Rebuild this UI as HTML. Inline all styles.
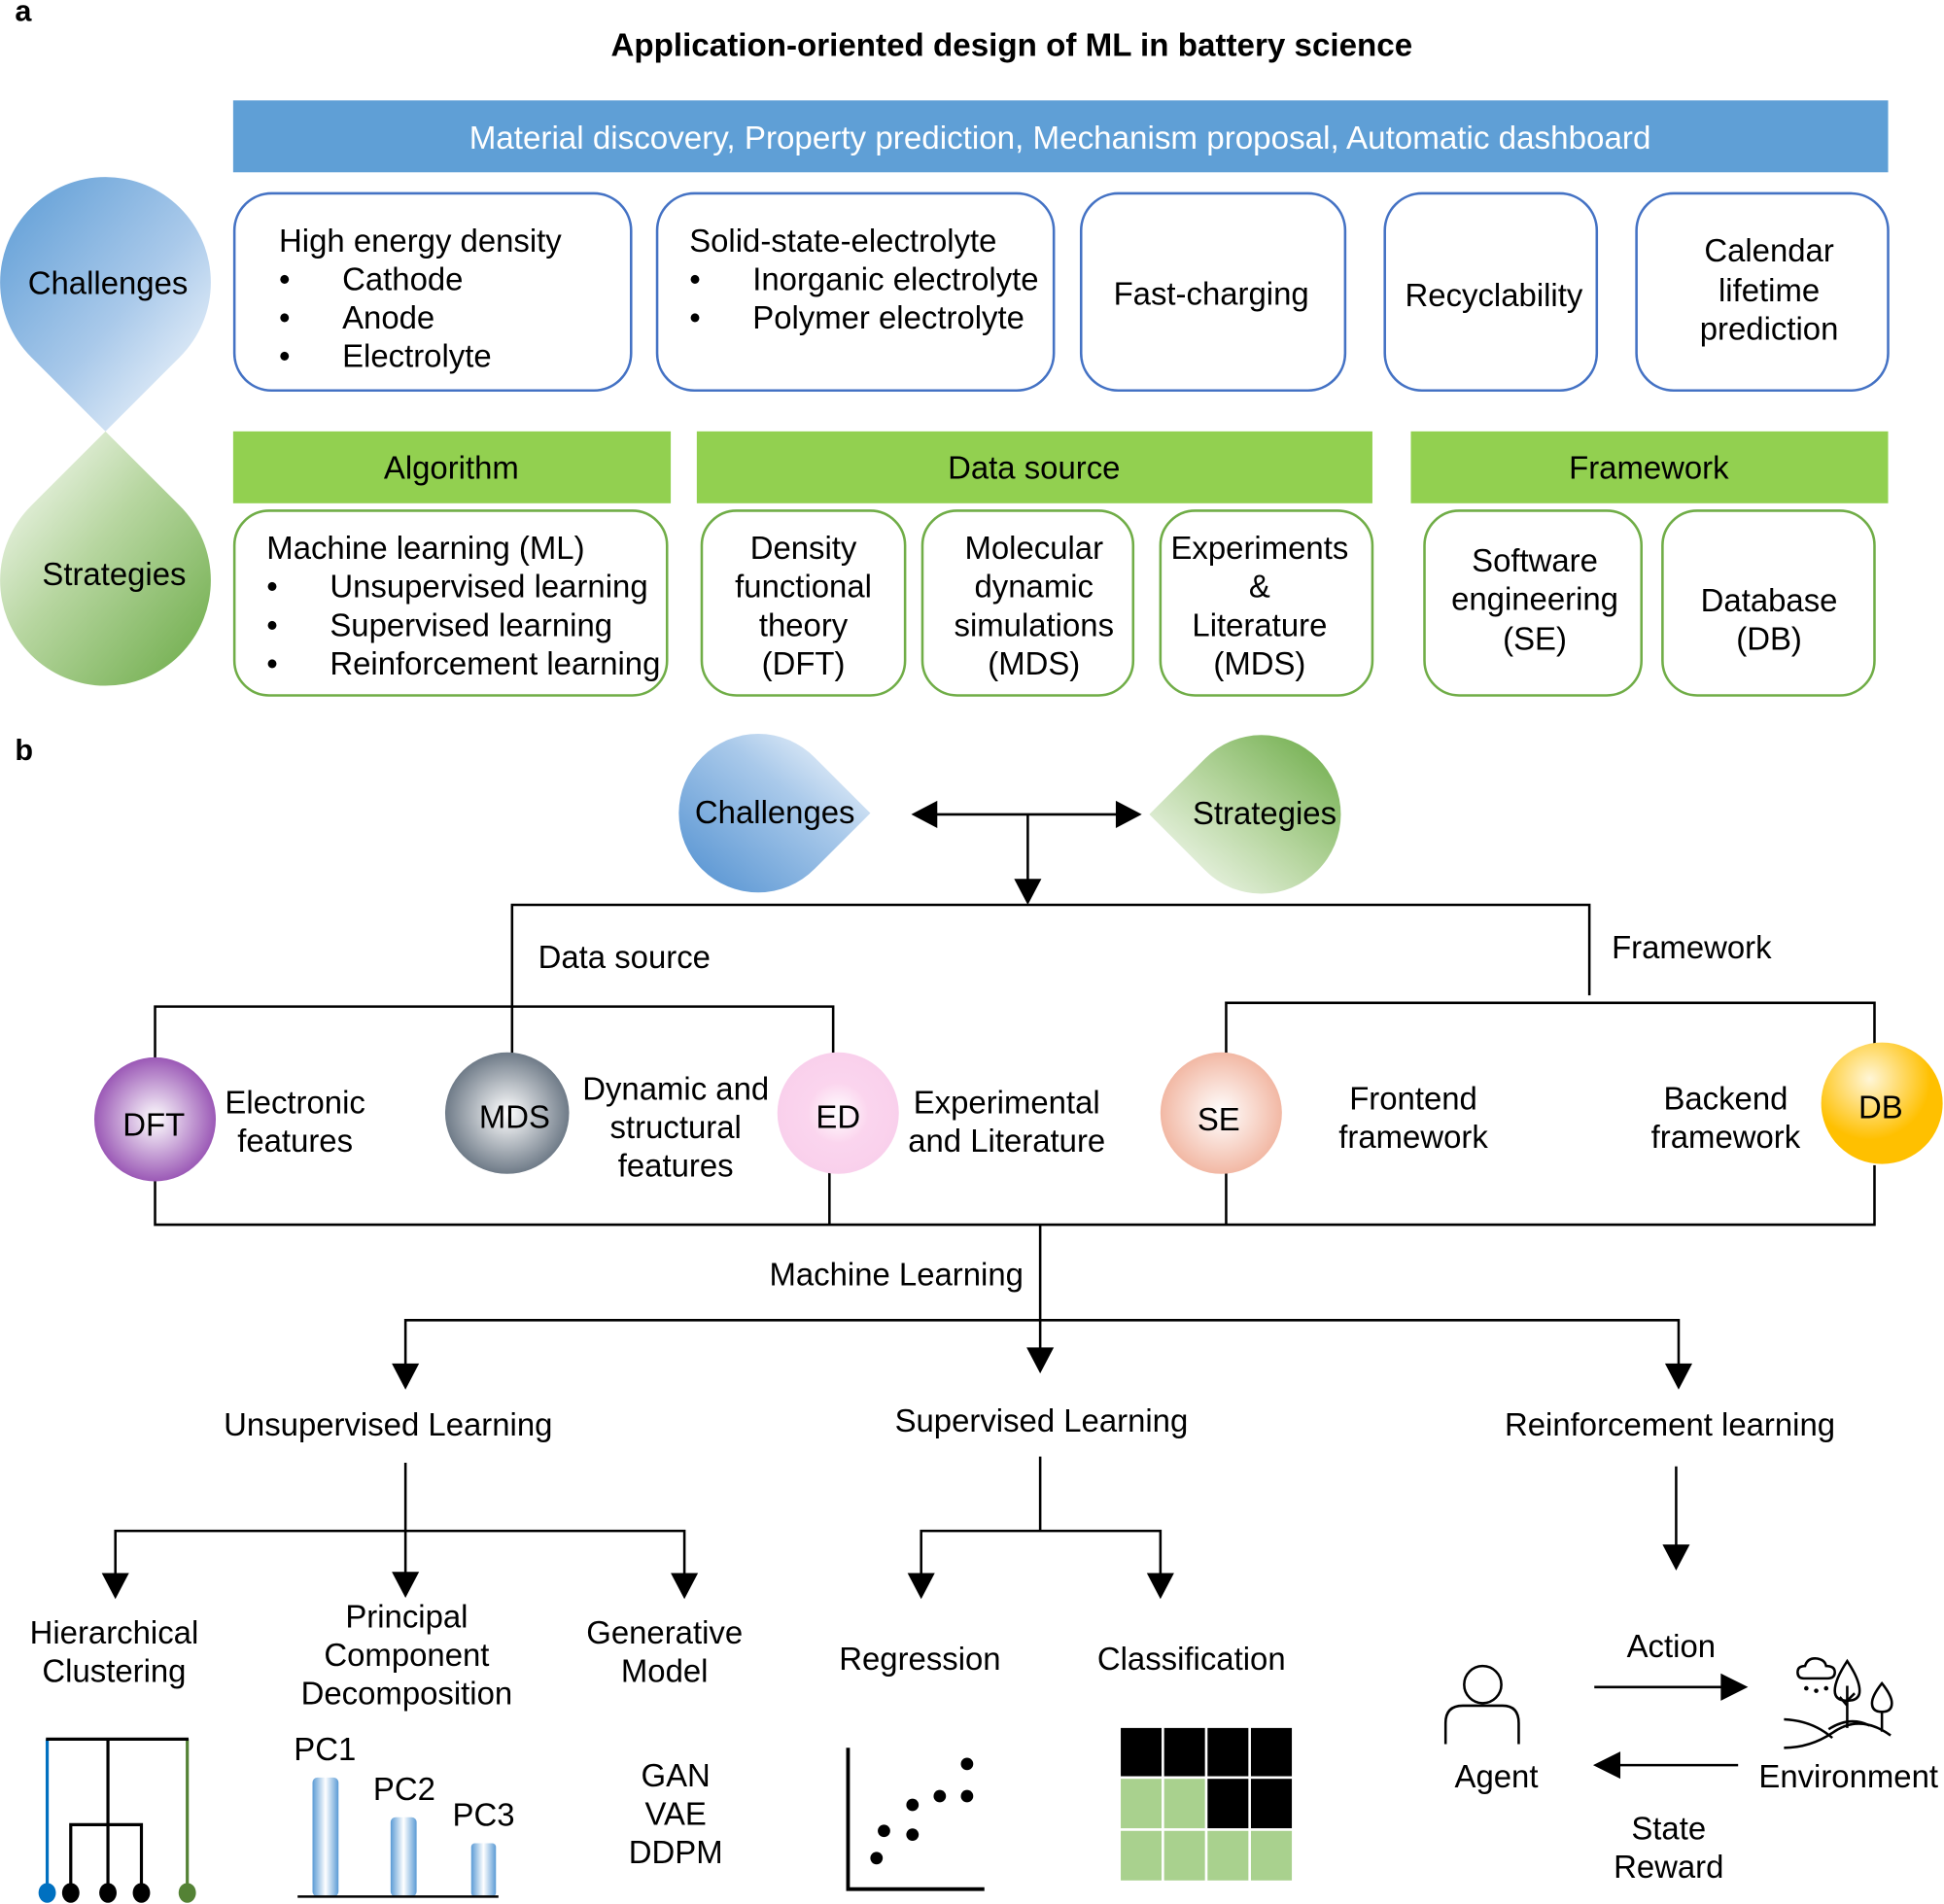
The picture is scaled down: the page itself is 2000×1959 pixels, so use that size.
<!DOCTYPE html>
<html><head><meta charset="utf-8"><style>html,body{margin:0;padding:0;background:#fff}svg{display:block}text{font-family:"Liberation Sans",Arial,sans-serif;fill:#000}</style></head>
<body>
<svg width="2000" height="1959" viewBox="0 0 1568 1536" xmlns="http://www.w3.org/2000/svg">
<defs>
<linearGradient id="gBlue" x1="0" y1="0" x2="1" y2="1"><stop offset="0" stop-color="#5b9bd5"/><stop offset="0.55" stop-color="#a9c9ea"/><stop offset="1" stop-color="#ffffff"/></linearGradient>
<linearGradient id="gGreen" x1="0" y1="0" x2="1" y2="1"><stop offset="0" stop-color="#ffffff"/><stop offset="0.45" stop-color="#b7d6a0"/><stop offset="1" stop-color="#6aaa45"/></linearGradient>
<linearGradient id="gBlue2" x1="1" y1="0" x2="0" y2="1"><stop offset="0" stop-color="#ffffff"/><stop offset="0.4" stop-color="#a9c9ea"/><stop offset="1" stop-color="#4f8fd0"/></linearGradient>
<linearGradient id="gGreen2" x1="0" y1="1" x2="1" y2="0"><stop offset="0" stop-color="#ffffff"/><stop offset="0.5" stop-color="#b7d6a0"/><stop offset="1" stop-color="#6aaa45"/></linearGradient>
<radialGradient id="rP"><stop offset="0" stop-color="#fff"/><stop offset="1" stop-color="#9b59b6"/></radialGradient>
<radialGradient id="rG"><stop offset="0" stop-color="#fff"/><stop offset="1" stop-color="#6f7b88"/></radialGradient>
<radialGradient id="rK"><stop offset="0" stop-color="#fff"/><stop offset="0.5" stop-color="#fbd5ee"/><stop offset="1" stop-color="#f9d0ec"/></radialGradient>
<radialGradient id="rS"><stop offset="0" stop-color="#fff"/><stop offset="1" stop-color="#f2b8a4"/></radialGradient>
<radialGradient id="rY" cx="0.4" cy="0.3"><stop offset="0" stop-color="#fff6d8"/><stop offset="1" stop-color="#ffc000"/></radialGradient>
<linearGradient id="gBar" x1="0" y1="0" x2="1" y2="0"><stop offset="0" stop-color="#5b9bd5"/><stop offset="0.5" stop-color="#ffffff"/><stop offset="1" stop-color="#5b9bd5"/></linearGradient>
</defs>

<text x="12" y="17" font-size="24" font-weight="bold">a</text>
<text x="816" y="45" font-size="26" font-weight="bold" text-anchor="middle">Application-oriented design of ML in battery science</text>
<rect x="188" y="81" width="1335" height="58" fill="#5f9fd6"/>
<text x="855" y="120" font-size="26" text-anchor="middle" style="fill:#fff">Material discovery, Property prediction, Mechanism proposal, Automatic dashboard</text>

<path d="M85,348 L25,288 A85,85 0 1 1 145,288 Z" fill="url(#gBlue)"/>
<path d="M85,348 L25,408 A85,85 0 1 0 145,408 Z" fill="url(#gGreen)"/>
<g font-size="25.8">
<text x="87" y="237" text-anchor="middle">Challenges</text>
<text x="92" y="472" text-anchor="middle">Strategies</text>
</g>

<g fill="none" stroke="#4472c4" stroke-width="2">
<rect x="189" y="156" width="320" height="159" rx="30"/>
<rect x="530" y="156" width="320" height="159" rx="30"/>
<rect x="872" y="156" width="213" height="159" rx="30"/>
<rect x="1117" y="156" width="171" height="159" rx="30"/>
<rect x="1320" y="156" width="203" height="159" rx="30"/>
</g>
<g font-size="25.8">
<text x="225" y="203">High energy density</text>
<text x="225" y="234">•</text><text x="276" y="234">Cathode</text>
<text x="225" y="265">•</text><text x="276" y="265">Anode</text>
<text x="225" y="296">•</text><text x="276" y="296">Electrolyte</text>
<text x="556" y="203">Solid-state-electrolyte</text>
<text x="556" y="234">•</text><text x="607" y="234">Inorganic electrolyte</text>
<text x="556" y="265">•</text><text x="607" y="265">Polymer electrolyte</text>
<text x="977" y="246" text-anchor="middle">Fast-charging</text>
<text x="1205" y="247" text-anchor="middle">Recyclability</text>
<text x="1427" y="211" text-anchor="middle">Calendar</text>
<text x="1427" y="243" text-anchor="middle">lifetime</text>
<text x="1427" y="274" text-anchor="middle">prediction</text>
</g>

<g fill="#92d050">
<rect x="188" y="348" width="353" height="58"/>
<rect x="562" y="348" width="545" height="58"/>
<rect x="1138" y="348" width="385" height="58"/>
</g>
<g font-size="25.8" text-anchor="middle">
<text x="364" y="386">Algorithm</text>
<text x="834" y="386">Data source</text>
<text x="1330" y="386">Framework</text>
</g>
<g fill="none" stroke="#70ad47" stroke-width="2">
<rect x="189" y="412" width="349" height="149" rx="28"/>
<rect x="566" y="412" width="164" height="149" rx="28"/>
<rect x="744" y="412" width="170" height="149" rx="28"/>
<rect x="936" y="412" width="171" height="149" rx="28"/>
<rect x="1149" y="412" width="175" height="149" rx="28"/>
<rect x="1341" y="412" width="171" height="149" rx="28"/>
</g>
<g font-size="25.8">
<text x="215" y="451">Machine learning (ML)</text>
<text x="215" y="482">•</text><text x="266" y="482">Unsupervised learning</text>
<text x="215" y="513">•</text><text x="266" y="513">Supervised learning</text>
<text x="215" y="544">•</text><text x="266" y="544">Reinforcement learning</text>
</g>
<g font-size="25.8" text-anchor="middle">
<text x="648" y="451">Density</text><text x="648" y="482">functional</text><text x="648" y="513">theory</text><text x="648" y="544">(DFT)</text>
<text x="834" y="451">Molecular</text><text x="834" y="482">dynamic</text><text x="834" y="513">simulations</text><text x="834" y="544">(MDS)</text>
<text x="1016" y="451">Experiments</text><text x="1016" y="482">&amp;</text><text x="1016" y="513">Literature</text><text x="1016" y="544">(MDS)</text>
<text x="1238" y="461">Software</text><text x="1238" y="492">engineering</text><text x="1238" y="524">(SE)</text>
<text x="1427" y="493">Database</text><text x="1427" y="524">(DB)</text>
</g>

<text x="12" y="613" font-size="24" font-weight="bold">b</text>
<path d="M702,656 L657,701 A64,64 0 1 1 657,611 Z" fill="url(#gBlue2)"/>
<path d="M927,657 L972,612 A64,64 0 1 1 972,702 Z" fill="url(#gGreen2)"/>
<g font-size="25.8">
<text x="625" y="664" text-anchor="middle">Challenges</text>
<text x="1020" y="665" text-anchor="middle">Strategies</text>
</g>

<g stroke="#000" stroke-width="2" fill="none">
<line x1="752" y1="657" x2="903" y2="657"/>
<line x1="829" y1="657" x2="829" y2="712"/>
<polyline points="413,850 413,730 1282,730 1282,803"/>
<polyline points="125,855 125,812 672,812 672,850"/>
<polyline points="989,850 989,809 1512,809 1512,843"/>
<polyline points="125,950 125,988 1512,988 1512,940"/>
<line x1="669" y1="946" x2="669" y2="988"/>
<line x1="989" y1="946" x2="989" y2="988"/>
<line x1="839" y1="988" x2="839" y2="1090"/>
<polyline points="327,1104 327,1065 1354,1065 1354,1104"/>
<line x1="327" y1="1180" x2="327" y2="1272"/>
<polyline points="93,1273 93,1235 552,1235 552,1273"/>
<line x1="839" y1="1175" x2="839" y2="1235"/>
<polyline points="743,1273 743,1235 936,1235 936,1273"/>
<line x1="1352" y1="1183" x2="1352" y2="1250"/>
<line x1="1286" y1="1361" x2="1392" y2="1361"/>
<line x1="1305" y1="1424" x2="1402" y2="1424"/>
</g>
<g fill="#000">
<polygon points="735,657 756,646 756,668"/>
<polygon points="921,657 900,646 900,668"/>
<polygon points="829,730 818,709 840,709"/>
<polygon points="839,1108 828,1087 850,1087"/>
<polygon points="327,1121 316,1100 338,1100"/>
<polygon points="1354,1121 1343,1100 1365,1100"/>
<polygon points="327,1289 316,1268 338,1268"/>
<polygon points="93,1290 82,1269 104,1269"/>
<polygon points="552,1290 541,1269 563,1269"/>
<polygon points="743,1290 732,1269 754,1269"/>
<polygon points="936,1290 925,1269 947,1269"/>
<polygon points="1352,1267 1341,1246 1363,1246"/>
<polygon points="1410,1361 1388,1350 1388,1372"/>
<polygon points="1285,1424 1307,1413 1307,1435"/>
</g>

<g font-size="25.8">
<text x="434" y="781">Data source</text>
<text x="1300" y="773">Framework</text>
</g>
<ellipse cx="125" cy="903" rx="49" ry="50" fill="url(#rP)"/>
<ellipse cx="409" cy="898" rx="50" ry="49" fill="url(#rG)"/>
<ellipse cx="676" cy="898" rx="49" ry="49" fill="url(#rK)"/>
<ellipse cx="985" cy="898" rx="49" ry="49" fill="url(#rS)"/>
<ellipse cx="1518" cy="890" rx="49" ry="49" fill="url(#rY)"/>
<g font-size="25.8" text-anchor="middle">
<text x="124" y="916">DFT</text>
<text x="415" y="910">MDS</text>
<text x="676" y="910">ED</text>
<text x="983" y="912">SE</text>
<text x="1517" y="902">DB</text>
<text x="238" y="898">Electronic</text><text x="238" y="929">features</text>
<text x="545" y="887">Dynamic and</text><text x="545" y="918">structural</text><text x="545" y="949">features</text>
<text x="812" y="898">Experimental</text><text x="812" y="929">and Literature</text>
<text x="1140" y="895">Frontend</text><text x="1140" y="926">framework</text>
<text x="1392" y="895">Backend</text><text x="1392" y="926">framework</text>
<text x="723" y="1037">Machine Learning</text>
<text x="313" y="1158">Unsupervised Learning</text>
<text x="840" y="1155">Supervised Learning</text>
<text x="1347" y="1158">Reinforcement learning</text>
<text x="92" y="1326">Hierarchical</text><text x="92" y="1357">Clustering</text>
<text x="328" y="1313">Principal</text><text x="328" y="1344">Component</text><text x="328" y="1375">Decomposition</text>
<text x="536" y="1326">Generative</text><text x="536" y="1357">Model</text>
<text x="742" y="1347">Regression</text>
<text x="961" y="1347">Classification</text>
<text x="545" y="1441">GAN</text><text x="545" y="1472">VAE</text><text x="545" y="1503">DDPM</text>
<text x="1348" y="1337">Action</text>
<text x="1207" y="1442">Agent</text>
<text x="1491" y="1442">Environment</text>
<text x="1346" y="1484">State</text><text x="1346" y="1515">Reward</text>
<text x="262" y="1420">PC1</text><text x="326" y="1452">PC2</text><text x="390" y="1473">PC3</text>
</g>

<g fill="none" stroke-width="2.5">
<line x1="38" y1="1403" x2="38" y2="1526" stroke="#0070c0"/>
<line x1="151" y1="1403" x2="151" y2="1526" stroke="#548235"/>
<g stroke="#000"><line x1="37" y1="1403" x2="152" y2="1403"/><line x1="87" y1="1403" x2="87" y2="1526"/>
<polyline points="57,1526 57,1472 114,1472 114,1526"/></g>
</g>
<ellipse cx="38" cy="1527" rx="7" ry="8" fill="#0070c0"/>
<ellipse cx="57" cy="1527" rx="7" ry="8" fill="#000"/>
<ellipse cx="87" cy="1527" rx="7" ry="8" fill="#000"/>
<ellipse cx="114" cy="1527" rx="7" ry="8" fill="#000"/>
<ellipse cx="151" cy="1527" rx="7" ry="8" fill="#548235"/>

<rect x="252" y="1434" width="21" height="96" rx="4" fill="url(#gBar)"/>
<rect x="315" y="1466" width="21" height="64" rx="4" fill="url(#gBar)"/>
<rect x="380" y="1487" width="20" height="43" rx="3" fill="url(#gBar)"/>
<line x1="240" y1="1530" x2="402" y2="1530" stroke="#000" stroke-width="2"/>

<polyline points="684,1410 684,1524 794,1524" fill="none" stroke="#000" stroke-width="3"/>
<g fill="#000">
<circle cx="707" cy="1499" r="5"/><circle cx="713" cy="1477" r="5"/><circle cx="736" cy="1480" r="5"/>
<circle cx="736" cy="1456" r="5"/><circle cx="758" cy="1449" r="5"/><circle cx="780" cy="1449" r="5"/><circle cx="780" cy="1423" r="5"/>
</g>

<g stroke="#fff" stroke-width="2">
<rect x="903" y="1393" width="35" height="41" fill="#000"/><rect x="938" y="1393" width="35" height="41" fill="#000"/>
<rect x="973" y="1393" width="35" height="41" fill="#000"/><rect x="1008" y="1393" width="35" height="41" fill="#000"/>
<rect x="903" y="1434" width="35" height="42" fill="#a9d18e"/><rect x="938" y="1434" width="35" height="42" fill="#a9d18e"/>
<rect x="973" y="1434" width="35" height="42" fill="#000"/><rect x="1008" y="1434" width="35" height="42" fill="#000"/>
<rect x="903" y="1476" width="35" height="42" fill="#a9d18e"/><rect x="938" y="1476" width="35" height="42" fill="#a9d18e"/>
<rect x="973" y="1476" width="35" height="42" fill="#a9d18e"/><rect x="1008" y="1476" width="35" height="42" fill="#a9d18e"/>
</g>

<g fill="none" stroke="#000" stroke-width="2">
<circle cx="1196" cy="1359" r="15"/>
<path d="M1166,1407 V1390 Q1166,1376 1180,1376 H1212 Q1225,1376 1225,1390 V1407"/>
</g>
<g fill="none" stroke="#000" stroke-width="2">
<path d="M1439,1387 Q1462,1388 1478,1402"/>
<path d="M1439,1410 Q1460,1410 1478,1398 Q1500,1382 1525,1400"/>
<path d="M1475,1395 Q1492,1384 1508,1392"/>
<path d="M1490,1394 V1360 M1490,1376 L1484,1369 M1490,1372 L1496,1366"/>
<path d="M1490,1340 Q1480,1355 1480,1364 Q1480,1372 1490,1372 Q1500,1372 1500,1364 Q1500,1355 1490,1340 Z"/>
<path d="M1518,1397 V1380"/>
<path d="M1518,1358 Q1510,1368 1510,1374 Q1510,1381 1518,1381 Q1526,1381 1526,1374 Q1526,1368 1518,1358 Z"/>
<path d="M1455,1354 Q1450,1354 1450,1349 Q1450,1344 1456,1344 Q1458,1337 1466,1338 Q1472,1339 1473,1344 Q1480,1344 1480,1349 Q1480,1354 1474,1354 Z"/>
</g>
<g fill="#000"><circle cx="1457" cy="1362" r="1.8"/><circle cx="1465" cy="1364" r="1.8"/><circle cx="1473" cy="1362" r="1.8"/></g>
</svg>
</body></html>
